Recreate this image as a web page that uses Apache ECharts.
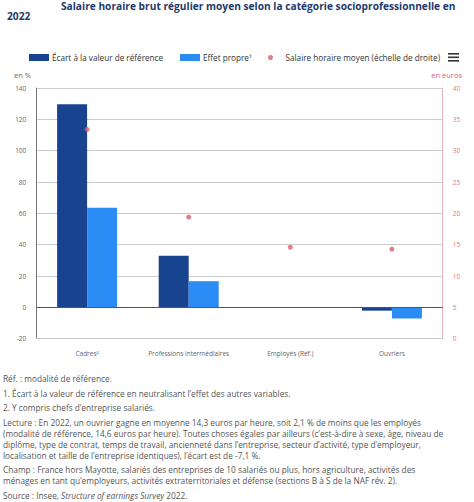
<!DOCTYPE html>
<html><head><meta charset="utf-8">
<script src="https://cdn.jsdelivr.net/npm/echarts@6/dist/echarts.min.js"></script>
<style>html,body{margin:0;padding:0;background:#fff}#c{width:474px;height:502px}</style>
</head><body><div id="c"></div>
<script>
const categories = ["Cadres²", "Professions intermédiaires", "Employés (Réf.)", "Ouvriers"];
const ecartReference = [129.6, 33.0, 0, -2.1];
const effetPropre = [63.6, 16.7, 0, -7.1];
const salaireMoyen = [33.4, 19.4, 14.6, 14.3];
const leftTicks = {min: -20, max: 140, interval: 20};
const rightTicks = {min: 0, max: 40, interval: 5};
const seriesNames = ["Écart à la valeur de référence", "Effet propre¹", "Salaire horaire moyen (échelle de droite)"];
const titleLines = ["Salaire horaire brut régulier moyen selon la catégorie socioprofessionnelle en", "2022"];
const notes = [
  "Réf. : modalité de référence.",
  "1. Écart à la valeur de référence en neutralisant l’effet des autres variables.",
  "2. Y compris chefs d’entreprise salariés.",
  "Lecture : En 2022, un ouvrier gagne en moyenne 14,3 euros par heure, soit 2,1 % de moins que les employés",
  "(modalité de référence, 14,6 euros par heure). Toutes choses égales par ailleurs (c’est-à-dire à sexe, âge, niveau de",
  "diplôme, type de contrat, temps de travail, ancienneté dans l’entreprise, secteur d’activité, type d’employeur,",
  "localisation et taille de l’entreprise identiques), l’écart est de -7,1 %.",
  "Champ : France hors Mayotte, salariés des entreprises de 10 salariés ou plus, hors agriculture, activités des",
  "ménages en tant qu’employeurs, activités extraterritoriales et défense (sections B à S de la NAF rév. 2)."
];
const noteY = [380, 394.5, 409, 423.5, 434.5, 445.5, 456.5, 471, 482];

const FONT = '"Open Sans", "Noto Sans", sans-serif';
const chart = echarts.init(document.getElementById('c'), null, {renderer: 'svg'});

const graphics = [
  {type: 'text', left: 61, top: 1, style: {text: titleLines[0], font: 'bold 10.2px ' + FONT, fill: '#1f3a6b'}},
  {type: 'text', left: 7, top: 10.5, style: {text: titleLines[1], font: 'bold 10.2px ' + FONT, fill: '#1f3a6b'}},
  {type: 'text', left: 14, top: 71, style: {text: 'en %', font: '7.5px ' + FONT, fill: '#666'}},
  {type: 'text', right: 12, top: 71, style: {text: 'en euros', font: '7.5px ' + FONT, fill: '#e0607a'}},
  {type: 'rect', left: 448, top: 53, shape: {width: 11, height: 1.6}, style: {fill: '#333'}},
  {type: 'rect', left: 448, top: 56.5, shape: {width: 11, height: 1.6}, style: {fill: '#333'}},
  {type: 'rect', left: 448, top: 60, shape: {width: 11, height: 1.6}, style: {fill: '#333'}}
];
notes.forEach((t, i) => {
  graphics.push({type: 'text', left: 3, top: noteY[i] - 5.5, style: {text: t, font: '8.3px ' + FONT, fill: '#555'}});
});
graphics.push({type: 'text', left: 3, top: 496.5 - 5.5, style: {
  text: '{a|Source : Insee, }{i|Structure of earnings Survey}{a| 2022.}',
  rich: {a: {font: '8.3px ' + FONT, fill: '#555'}, i: {font: 'italic 8.3px ' + FONT, fill: '#555'}}
}});

const legendBase = {top: 53.5, padding: 0, itemWidth: 20, itemHeight: 7,
  textStyle: {fontSize: 8.2, color: '#333', fontFamily: FONT, padding: [0, 0, 0, -2]}};

chart.setOption({
  animation: false,
  textStyle: {fontFamily: FONT},
  grid: {left: 36.3, right: 31.3, top: 88, bottom: 163.3, containLabel: false},
  legend: [
    Object.assign({left: 29, data: [{name: seriesNames[0], icon: 'rect'}]}, legendBase),
    Object.assign({left: 180, data: [{name: seriesNames[1], icon: 'rect'}]}, legendBase),
    Object.assign({left: 268, data: [{name: seriesNames[2], icon: 'circle'}]}, legendBase, {
      itemHeight: 5,
      textStyle: {fontSize: 8.2, color: '#333', fontFamily: FONT, padding: [0, 0, 0, 0]}})
  ],
  xAxis: {
    type: 'category', data: categories,
    axisLine: {onZero: false, lineStyle: {color: '#ccc'}},
    axisTick: {show: false},
    axisLabel: {fontSize: 6.5, color: '#666', margin: 11, interval: 0, fontFamily: FONT}
  },
  yAxis: [
    {type: 'value', min: leftTicks.min, max: leftTicks.max, interval: leftTicks.interval,
      axisLine: {show: true, lineStyle: {color: '#777'}},
      axisTick: {show: false},
      axisLabel: {fontSize: 6.5, color: '#666', margin: 10, fontFamily: FONT},
      splitLine: {lineStyle: {color: '#ccc'}}},
    {type: 'value', min: rightTicks.min, max: rightTicks.max, interval: rightTicks.interval,
      axisLine: {show: true, lineStyle: {color: '#e8b4bc'}},
      axisTick: {show: false},
      axisLabel: {fontSize: 6.5, color: '#e07a88', margin: 10, fontFamily: FONT},
      splitLine: {show: false}}
  ],
  series: [
    {name: seriesNames[0], type: 'bar', data: ecartReference, barWidth: 30, barGap: '0%',
      itemStyle: {color: '#17438f'},
      markLine: {silent: true, symbol: 'none', label: {show: false}, lineStyle: {color: '#555', type: 'solid', width: 1},
        data: [{yAxis: 0}]}},
    {name: seriesNames[1], type: 'bar', data: effetPropre, barWidth: 30,
      itemStyle: {color: '#2b8cf5'}},
    {name: seriesNames[2], type: 'scatter', yAxisIndex: 1, data: salaireMoyen, symbolSize: 5,
      itemStyle: {color: '#e25a6c'}, z: 5}
  ],
  graphic: graphics
});
</script></body></html>
